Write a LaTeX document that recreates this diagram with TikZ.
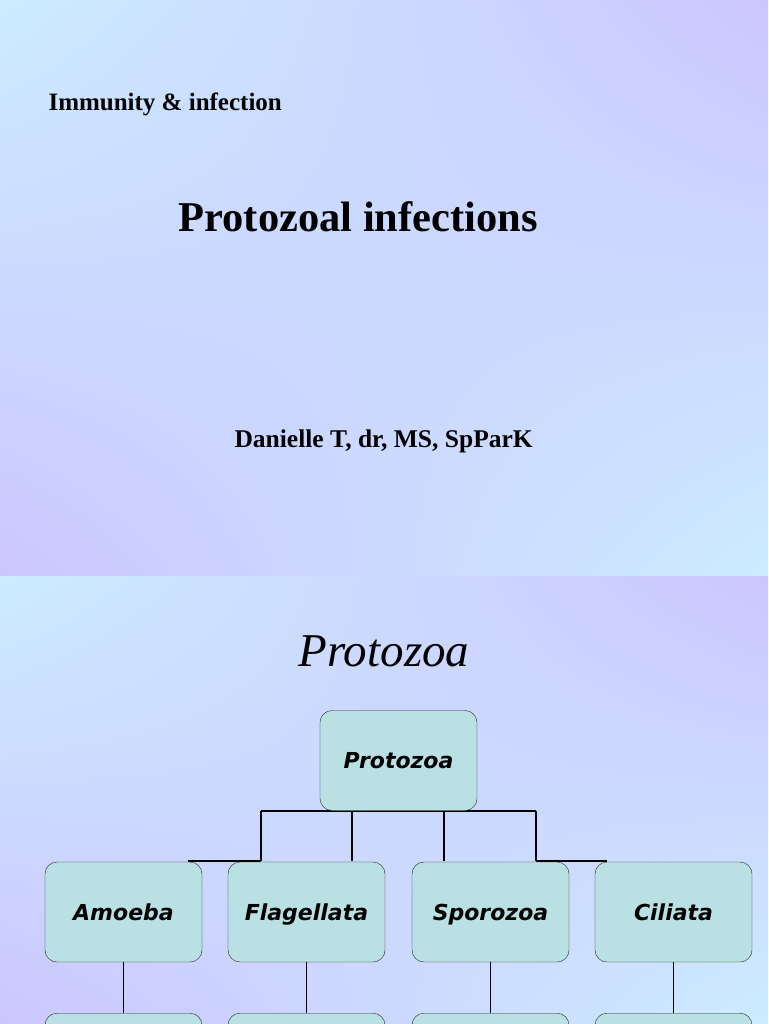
\documentclass[tikz,border=0pt]{standalone}
\usepackage{fontspec}
\setmainfont{Liberation Serif}
\newfontfamily\boxfont{DejaVu Sans}
\usetikzlibrary{shadings}
\definecolor{lb}{RGB}{204,236,255}
\definecolor{lav}{RGB}{204,198,255}
\definecolor{boxfill}{RGB}{185,224,226}
\tikzset{
  tbox/.style={draw=black!85, fill=boxfill, rounded corners=12pt, minimum width=157pt, minimum height=100pt, inner sep=0pt, text height=20pt, text depth=4pt, font=\boxfont\bfseries\itshape\fontsize{22}{26}\selectfont},
  conn/.style={draw=black, line width=1.1pt}
}
\begin{document}
\begin{tikzpicture}[x=1pt,y=-1pt]
\useasboundingbox (0,0) rectangle (768,1024);
\shade[upper left=lb, upper right=lav, lower left=lav, lower right=lb] (0,0) rectangle (768,576);
\shade[upper left=lb, upper right=lav, lower left=lav, lower right=lb] (0,576) rectangle (768,1024);
% top slide
\node[anchor=west, font=\bfseries\fontsize{25}{30}\selectfont] (imm) at (45,104) {Immunity \& infection};
\node[anchor=west, font=\bfseries\fontsize{42.5}{48}\selectfont] (ttl) at (175,217) {Protozoal infections};
\node[anchor=west, font=\bfseries\fontsize{25.5}{30}\selectfont] (auth) at (231,441) {Danielle T, dr, MS, SpParK};
% bottom slide
\node[font=\itshape\fontsize{47}{52}\selectfont] (head) at (384,651) {Protozoa};
\coordinate (hl) at (261,811); \coordinate (hr) at (536,811);
\coordinate (a1) at (261,861); \coordinate (a2) at (352,861);
\coordinate (a3) at (444,861); \coordinate (a4) at (536,861);
\coordinate (al) at (188,861); \coordinate (ar) at (607,861);
\draw[conn] (hl) -- (hr);
\draw[conn] (hl) -- (a1); \draw[conn] (a2 |- hl) -- (a2);
\draw[conn] (a3 |- hl) -- (a3); \draw[conn] (hr) -- (a4);
\draw[conn] (al) -- (a1); \draw[conn] (a4) -- (ar);
\node[tbox] (root) at (398.5,760.5) {Protozoa};
\node[tbox] (am) at (123.5,912) {Amoeba};
\node[tbox] (fl) at (306.5,912) {Flagellata};
\node[tbox] (sp) at (490.5,912) {Sporozoa};
\node[tbox] (ci) at (673.5,912) {Ciliata};
\node[tbox, anchor=north] (am2) at (123.5,1013) {};
\node[tbox, anchor=north] (fl2) at (306.5,1013) {};
\node[tbox, anchor=north] (sp2) at (490.5,1013) {};
\node[tbox, anchor=north] (ci2) at (673.5,1013) {};
\draw[conn] (am) -- (am2); \draw[conn] (fl) -- (fl2);
\draw[conn] (sp) -- (sp2); \draw[conn] (ci) -- (ci2);
\end{tikzpicture}
\end{document}
